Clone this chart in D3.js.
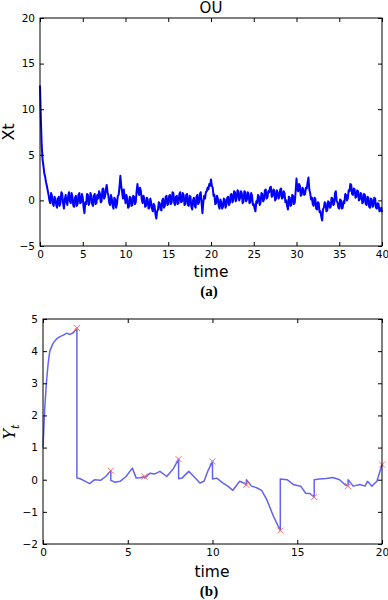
<!DOCTYPE html>
<html>
<head>
<meta charset="utf-8">
<script src="https://cdn.jsdelivr.net/npm/d3@7"></script>
<style>
  body { margin: 0; background: #fff; }
  svg { display: block; }
  .tick text { font-family: "DejaVu Sans", sans-serif; font-size: 10.5px; fill: #000; }
  .tick line { stroke: #000; }
</style>
</head>
<body>
<div id="chart"></div>
<script>
// (a) OU path, sampled every 0.1 time units from 0 to 40 (one row per time unit)
var ouStep = 0.1;
var ouValues = [
  12.6, 9.0, 6.0, 4.5, 3.8, 3.0, 2.6, 2.0, 1.6, 1.1,
  0.6, 0.0, -0.3, 0.8, 0.5, -0.4, -0.6, 0.4, 0.2, -0.5,
  -0.8, 0.2, 0.4, -0.6, -0.2, 0.9, 0.7, -0.3, -0.9, 0.1,
  0.6, -0.2, -0.5, 0.5, 0.9, -0.1, -0.3, 0.8, 0.4, -0.6,
  -0.7, 0.3, 0.5, -0.6, -0.4, 0.6, 0.8, -0.3, -0.2, 0.7,
  0.3, -0.8, -1.4, -0.2, -0.4, 0.7, 0.6, -0.5, -0.2, 0.8,
  0.5, -0.4, -0.6, 0.5, 0.7, -0.4, -0.3, 0.6, 0.2, 1.0,
  0.8, -0.2, -0.1, 1.2, 1.3, 0.2, 0.4, 1.2, 1.7, 0.9,
  0.5, -0.3, -0.5, 0.6, 0.2, -0.6, -0.9, 0.3, 0.1, -0.8,
  -0.4, 0.5, 0.6, 1.5, 2.7, 1.6, 0.9, 0.2, 1.2, 0.4,
  -0.3, 0.6, 0.2, -0.8, -0.7, 0.4, 0.3, -0.6, -0.5, 0.5,
  0.4, -0.4, -0.2, 1.0, 1.8, 0.9, 0.6, 1.4, 1.0, 0.1,
  -0.3, 0.5, 0.2, -0.7, -0.6, 0.3, 0.1, -0.9, -0.8, 0.2,
  -0.2, -0.9, -1.2, -0.4, -0.6, -1.5, -2.0, -1.2, -1.0, -0.2,
  -0.3, -1.0, -1.1, 0.0, 0.2, -0.8, -0.6, 0.4, 0.5, -0.5,
  -0.4, 0.5, 0.6, -0.4, -0.2, 0.9, 0.8, -0.3, -0.5, 0.4,
  0.5, -0.4, -0.3, 0.7, 0.9, -0.2, -0.1, 0.8, 0.6, -0.5,
  -0.4, 0.6, 0.7, -0.5, -0.6, 0.5, 0.4, -0.7, -1.0, 0.0,
  0.3, -0.6, -0.8, 0.4, 0.6, -0.4, -0.2, 0.7, 0.9, -0.3,
  -1.4, -0.2, 0.5, 0.2, 0.9, 1.0, 1.4, 1.2, 1.8, 1.6,
  2.3, 1.6, 1.4, 0.5, 0.6, -0.4, -0.3, 0.5, 0.2, -0.6,
  -0.9, 0.1, -0.2, -0.9, -0.7, 0.2, 0.1, -0.8, -0.5, 0.3,
  0.4, -0.5, -0.3, 0.6, 0.7, -0.2, 0.0, 1.0, 0.9, -0.1,
  0.2, 1.1, 1.0, 0.0, 0.3, 1.0, 0.8, -0.3, -0.1, 1.0,
  0.9, -0.1, 0.1, 0.9, 0.7, -0.3, -0.2, 0.8, 0.5, -0.5,
  -0.4, -0.9, -1.2, -0.1, -0.3, 0.6, 0.4, -0.5, -0.2, 0.8,
  0.7, -0.1, 0.1, 1.1, 1.2, 0.2, 0.3, 1.0, 0.9, 1.4,
  1.5, 0.4, 0.5, 1.2, 1.1, 0.0, 0.2, 1.1, 0.9, 0.2,
  0.4, 1.2, 1.3, 0.2, 0.3, 1.0, 0.8, -0.2, 0.0, -0.6,
  -1.0, 0.4, 0.3, -0.6, -0.5, 0.6, 0.5, -0.4, -0.2, 1.0,
  2.4, 1.2, 1.0, 1.8, 1.6, 0.5, 0.6, 1.4, 1.2, 0.6,
  0.7, 1.4, 1.3, 2.0, 2.5, 1.2, 0.8, 0.1, 0.3, -0.4,
  -0.6, 0.3, 0.2, -0.9, -1.0, -0.2, -0.3, -1.3, -1.2, -1.8,
  -2.2, -1.0, -0.8, -0.2, -0.3, -1.2, -1.1, -0.1, -0.2, -0.8,
  -0.7, 0.3, 0.2, -0.5, -0.4, 0.8, 1.0, -0.1, -0.2, -0.8,
  -0.9, 0.1, 0.0, -0.9, -0.8, -0.1, -0.3, 0.7, 0.6, 0.0,
  0.2, 1.1, 1.0, 1.8, 1.7, 0.7, 0.6, 1.3, 1.2, 0.3,
  0.4, 1.1, 1.0, 0.0, 0.1, 0.8, 0.7, -0.3, -0.2, 0.7,
  0.6, -0.4, -0.5, 0.4, 0.3, -0.7, -0.8, 0.2, 0.1, -0.7,
  -0.6, 0.3, 0.2, -0.8, -0.9, -0.3, -0.4, -1.2, -1.1, -0.8,
  -1.3
];
var ouXTicks = [0, 5, 10, 15, 20, 25, 30, 35, 40];
var ouYTicks = [-5, 0, 5, 10, 15, 20];

// (b) Y_t path (repeated times are the resets)
var yTimes = [0, 0.1, 0.2, 0.3, 0.4, 0.6, 0.8, 1.0, 1.2, 1.4, 1.6, 1.8, 2.0,
  2.0, 2.2, 2.5, 2.75, 3.05, 3.4, 3.7, 4.0,
  4.0, 4.25, 4.55, 4.9, 5.27, 5.5, 5.75, 6.0,
  6.0, 6.3, 6.6, 6.9, 7.3, 7.7, 8.0,
  8.0, 8.2, 8.6, 8.9, 9.26, 9.5, 9.75, 10.0,
  10.0, 10.25, 10.6, 10.9, 11.2, 11.6, 11.85, 12.0,
  12.0, 12.3, 12.6, 12.9, 13.2, 13.6, 14.0,
  14.0, 14.4, 14.8, 15.2, 15.5, 15.75, 16.0,
  16.0, 16.3, 16.7, 17.1, 17.5, 17.8, 18.0,
  18.0, 18.3, 18.7, 19.0, 19.15, 19.4, 19.7, 20.0];
var yValues = [1.0, 2.2, 3.0, 3.6, 4.0, 4.25, 4.38, 4.45, 4.5, 4.56, 4.52, 4.58, 4.72,
  0.05, 0.03, -0.05, -0.12, 0.0, -0.02, 0.1, 0.28,
  -0.02, -0.08, -0.05, 0.1, 0.36, 0.05, 0.06, 0.1,
  0.05, 0.2, 0.18, 0.26, 0.1, 0.35, 0.64,
  0.03, 0.05, 0.26, 0.1, -0.1, -0.05, 0.3, 0.57,
  0.02, 0.05, -0.1, -0.2, -0.33, -0.05, -0.1, -0.16,
  0.0, -0.2, -0.25, -0.33, -0.62, -1.14, -1.58,
  0.02, 0.0, -0.16, -0.2, -0.42, -0.43, -0.54,
  0.0, 0.02, 0.04, 0.07, 0.0, -0.15, -0.2,
  0.0, -0.2, -0.15, -0.2, -0.05, -0.2, -0.05, 0.47];
var markTimes = [2, 4, 6, 8, 10, 12, 14, 16, 18, 20];
var markValues = [4.72, 0.28, 0.1, 0.64, 0.57, -0.16, -1.58, -0.54, -0.2, 0.47];
var yXTicks = [0, 5, 10, 15, 20];
var yYTicks = [-2, -1, 0, 1, 2, 3, 4, 5];

var width = 388, height = 600;
var svg = d3.select("#chart").append("svg")
  .attr("width", width).attr("height", height);

function frame(g, x, y, xTicks, yTicks) {
  var x0 = x.range()[0], x1 = x.range()[1];
  var y0 = y.range()[0], y1 = y.range()[1];
  g.append("g").attr("transform", "translate(0," + y0 + ")")
    .call(d3.axisBottom(x).tickValues(xTicks).tickSizeInner(-4).tickSizeOuter(0).tickPadding(5).tickFormat(d3.format("d")))
    .call(function(a) { a.select(".domain").remove(); });
  g.append("g").attr("transform", "translate(0," + y1 + ")")
    .call(d3.axisTop(x).tickValues(xTicks).tickSizeInner(-4).tickSizeOuter(0).tickFormat(""))
    .call(function(a) { a.select(".domain").remove(); });
  g.append("g").attr("transform", "translate(" + x0 + ",0)")
    .call(d3.axisLeft(y).tickValues(yTicks).tickSizeInner(-4).tickSizeOuter(0).tickPadding(5)
      .tickFormat(function(d) { return d < 0 ? "\u2212" + (-d) : d; }))
    .call(function(a) { a.select(".domain").remove(); });
  g.append("g").attr("transform", "translate(" + x1 + ",0)")
    .call(d3.axisRight(y).tickValues(yTicks).tickSizeInner(-4).tickSizeOuter(0).tickFormat(""))
    .call(function(a) { a.select(".domain").remove(); });
  g.append("rect")
    .attr("x", x0).attr("y", y1)
    .attr("width", x1 - x0).attr("height", y0 - y1)
    .attr("fill", "none").attr("stroke", "#000").attr("stroke-width", 1);
}

// ---- panel (a)
var xA = d3.scaleLinear().domain([0, 40]).range([40, 382]);
var yA = d3.scaleLinear().domain([-5, 20]).range([246, 18]);
var gA = svg.append("g");

var ouData = ouValues.map(function(v, i) { return { t: i * ouStep, v: v }; });
gA.append("path")
  .datum(ouData)
  .attr("fill", "none")
  .attr("stroke", "#0000ff")
  .attr("stroke-width", 2)
  .attr("stroke-linejoin", "round")
  .attr("d", d3.line().x(function(d) { return xA(d.t); }).y(function(d) { return yA(d.v); }));

frame(gA, xA, yA, ouXTicks, ouYTicks);

gA.append("text").attr("x", 211).attr("y", 13)
  .attr("text-anchor", "middle")
  .style("font-family", "DejaVu Sans").style("font-size", "15px")
  .text("OU");
gA.append("text").attr("transform", "translate(14,132) rotate(-90)")
  .attr("text-anchor", "middle")
  .style("font-family", "DejaVu Sans").style("font-size", "16px")
  .text("Xt");
gA.append("text").attr("x", 211).attr("y", 277)
  .attr("text-anchor", "middle")
  .style("font-family", "DejaVu Sans").style("font-size", "15.5px")
  .text("time");
gA.append("text").attr("x", 209).attr("y", 296)
  .attr("text-anchor", "middle")
  .style("font-family", "Liberation Serif").style("font-weight", "bold").style("font-size", "15px")
  .text("(a)");

// ---- panel (b)
var xB = d3.scaleLinear().domain([0, 20]).range([43, 382]);
var yB = d3.scaleLinear().domain([-2, 5]).range([544, 319]);
var gB = svg.append("g");

var yData = yTimes.map(function(t, i) { return { t: t, v: yValues[i] }; });
gB.append("path")
  .datum(yData)
  .attr("fill", "none")
  .attr("stroke", "#3c3cf0")
  .attr("stroke-opacity", 0.8)
  .attr("stroke-width", 1.5)
  .attr("stroke-linejoin", "round")
  .attr("d", d3.line().x(function(d) { return xB(d.t); }).y(function(d) { return yB(d.v); }));

var marks = markTimes.map(function(t, i) { return { t: t, v: markValues[i] }; });
gB.selectAll("path.mark")
  .data(marks)
  .enter().append("path")
  .attr("class", "mark")
  .attr("transform", function(d) { return "translate(" + xB(d.t) + "," + yB(d.v) + ")"; })
  .attr("d", "M-3,-3L3,3M-3,3L3,-3")
  .attr("stroke", "#ff6a6a")
  .attr("stroke-width", 1);

frame(gB, xB, yB, yXTicks, yYTicks);

var yl = gB.append("text").attr("transform", "translate(15,432) rotate(-90)")
  .attr("text-anchor", "middle")
  .style("font-family", "DejaVu Serif").style("font-style", "italic").style("font-size", "16px");
yl.append("tspan").text("Y");
yl.append("tspan").attr("dy", 4).style("font-size", "11px").text("t");

gB.append("text").attr("x", 212).attr("y", 577)
  .attr("text-anchor", "middle")
  .style("font-family", "DejaVu Sans").style("font-size", "15.5px")
  .text("time");
gB.append("text").attr("x", 209).attr("y", 596)
  .attr("text-anchor", "middle")
  .style("font-family", "Liberation Serif").style("font-weight", "bold").style("font-size", "15px")
  .text("(b)");
</script>
</body>
</html>
